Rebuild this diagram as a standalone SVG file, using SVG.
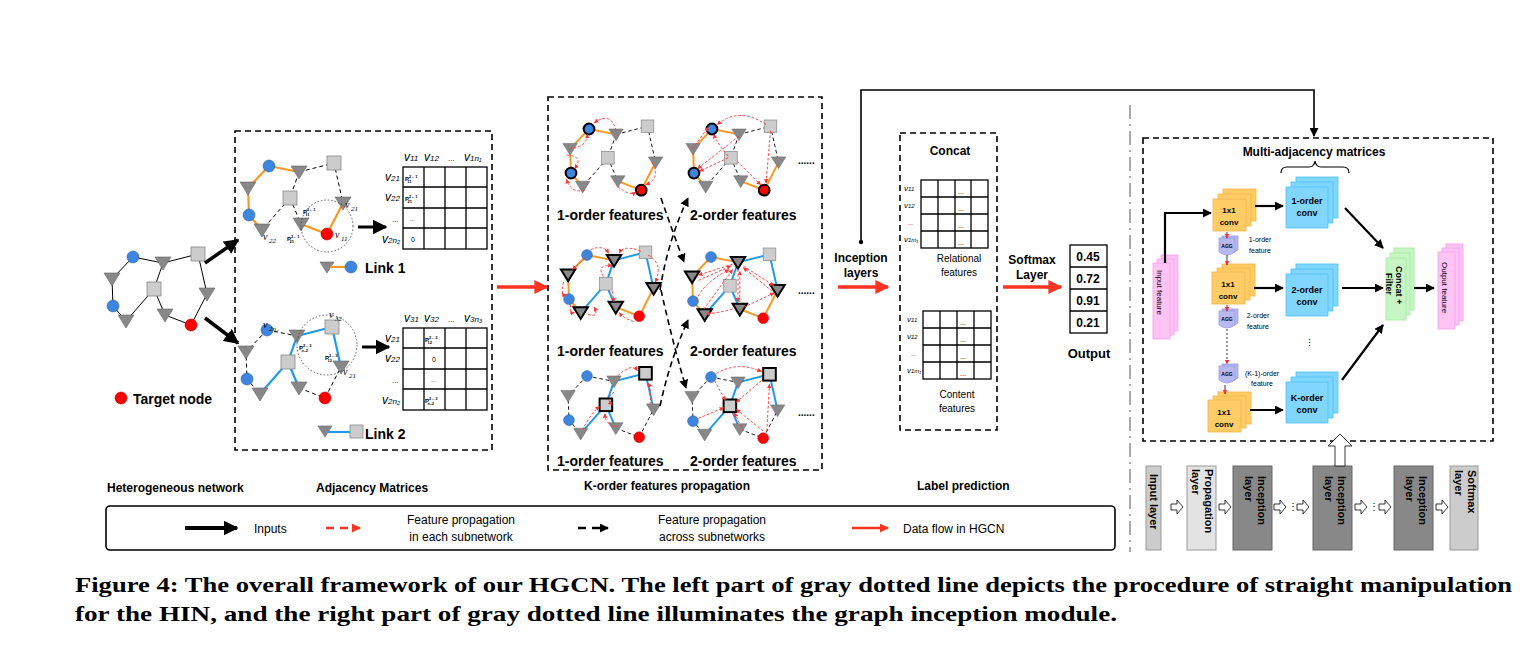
<svg xmlns="http://www.w3.org/2000/svg" xmlns:xlink="http://www.w3.org/1999/xlink" width="1525" height="658" viewBox="0 0 1525 658">
<style>
text{font-family:"Liberation Sans",Arial,sans-serif;fill:#000}
.b{font-weight:bold}
.m{font-family:"Liberation Serif","Times New Roman",serif;font-style:italic}
.dash{fill:none;stroke:#000;stroke-width:1.6;stroke-dasharray:6,4}
.e{stroke:#000;stroke-width:1;fill:none}
.ed{stroke:#000;stroke-width:1;stroke-dasharray:4,3;fill:none}
.eo{stroke:#f59b23;stroke-width:2.2;fill:none}
.eb{stroke:#1f9ae8;stroke-width:2.2;fill:none}
.ci{fill:#3d85de;stroke:#2a63a8;stroke-width:.6}
.rd{fill:#f00;stroke:#a00;stroke-width:.6}
.sq{fill:#ccc;stroke:#888;stroke-width:.8}
.tr{fill:#888;stroke:#666;stroke-width:.6}
.hl{stroke:#000;stroke-width:2.2}
.rr{fill:none;stroke:#f33;stroke-width:1;stroke-dasharray:3,2}
.cell{fill:#fff;stroke:#000;stroke-width:1.3}
.pk{fill:#ffc4f4;stroke:#f0a0e8;stroke-width:.8}
.or{fill:#ffcc66;stroke:#f2b44a;stroke-width:.8}
.bl{fill:#80d6ff;stroke:#4ec0f5;stroke-width:.8}
.gr{fill:#c8f5c4;stroke:#a4e8a0;stroke-width:.8}
.pu{fill:#b7b8f0;stroke:#9a9be0;stroke-width:.8}
</style>
<defs>
<marker id="ab" viewBox="0 0 10 10" refX="9" refY="5" markerUnits="userSpaceOnUse" markerWidth="9" markerHeight="9" orient="auto"><path d="M0,0L10,5L0,10z" fill="#000"/></marker>
<marker id="ar" viewBox="0 0 10 10" refX="9" refY="5" markerUnits="userSpaceOnUse" markerWidth="5" markerHeight="5" orient="auto"><path d="M0,0L10,5L0,10z" fill="#f33"/></marker>
<marker id="arr" viewBox="0 0 10 10" refX="9" refY="5" markerUnits="userSpaceOnUse" markerWidth="14" markerHeight="14" orient="auto"><path d="M0,0L10,5L0,10z" fill="#f32"/></marker>
<marker id="arrs" viewBox="0 0 10 10" refX="9" refY="5" markerUnits="userSpaceOnUse" markerWidth="9" markerHeight="9" orient="auto"><path d="M0,0L10,5L0,10z" fill="#f32"/></marker>
<marker id="ak" viewBox="0 0 10 10" refX="9" refY="5" markerUnits="userSpaceOnUse" markerWidth="15" markerHeight="15" orient="auto"><path d="M0,0L10,5L0,10z" fill="#000"/></marker>
<g id="nodes">
<circle class="ci" cx="0" cy="0" r="6"/>
<path class="tr" d="M22,0h16l-8,13z"/>
<rect class="sq" x="58" y="-10" width="14" height="14"/>
<path class="tr" d="M-29,16h16l-8,13z"/>
<rect class="sq" x="14" y="25" width="14" height="14"/>
<path class="tr" d="M66,31h16l-8,13z"/>
<circle class="ci" cx="-20" cy="49" r="6"/>
<path class="tr" d="M-15,58h16l-8,13z"/>
<path class="tr" d="M24,52h16l-8,13z"/>
<circle class="rd" cx="58" cy="68" r="6"/>
</g>
</defs>

<!-- HIN -->
<g id="hin" transform="translate(133,257)">
<path class="e" d="M0,0L30,6L65,-3M0,0L-21,22L-20,49L-7,64L21,32L30,6M21,32L32,58L58,68L74,37L65,-3"/>
<use xlink:href="#nodes"/>
</g>
<g id="target"><circle class="rd" cx="121" cy="398" r="6"/><text class="b" x="133" y="404" font-size="14">Target node</text></g>

<!-- Link1 graph -->
<g id="link1" transform="translate(269,166)">
<path class="ed" d="M30,6L65,-3L74,37M30,6L21,32L-7,64M21,32L32,58"/>
<path class="eo" d="M0,0L30,6M0,0L-21,22L-20,49L-7,64M32,58L58,68L74,37"/>
<use xlink:href="#nodes"/>
<circle cx="58" cy="60" r="26" fill="none" stroke="#333" stroke-width=".8" stroke-dasharray="1.5,2"/>
<text class="m" x="76" y="42" font-size="10">v</text><text class="m" x="82" y="45" font-size="7">21</text>
<text class="m" x="-6" y="74" font-size="10">v</text><text class="m" x="0" y="77" font-size="7">22</text>
<text class="m" x="66" y="72" font-size="10">v</text><text class="m" x="72" y="75" font-size="7">11</text>
<text x="34" y="48" font-size="6" font-weight="bold">P<tspan font-size="4" dy="-3">2←1</tspan><tspan font-size="4" dx="-10" dy="5">11</tspan></text>
<text x="18" y="75" font-size="6" font-weight="bold">P<tspan font-size="4" dy="-3">2←1</tspan><tspan font-size="4" dx="-10" dy="5">21</tspan></text>
</g>
<g id="link1leg"><path class="tr" d="M320,262h14l-7,11z"/><line class="eo" x1="330" y1="267" x2="350" y2="267"/><circle class="ci" cx="351" cy="267" r="6"/><text class="b" x="365" y="273" font-size="14">Link 1</text></g>

<!-- Link2 graph -->
<g id="link2" transform="translate(267,330)">
<path class="ed" d="M0,0L30,6M0,0L-21,22L-20,49L-7,64M32,58L58,68L74,37"/>
<path class="eb" d="M30,6L65,-3L74,37M30,6L21,32L-7,64M21,32L32,58"/>
<use xlink:href="#nodes"/>
<circle cx="60" cy="15" r="30" fill="none" stroke="#333" stroke-width=".8" stroke-dasharray="1.5,2"/>
<text class="m" x="-4" y="-2" font-size="10">v</text><text class="m" x="2" y="1" font-size="7">2n₂</text>
<text class="m" x="62" y="-12" font-size="10">v</text><text class="m" x="68" y="-9" font-size="7">32</text>
<text class="m" x="76" y="45" font-size="10">v</text><text class="m" x="82" y="48" font-size="7">21</text>
<text x="32" y="20" font-size="6" font-weight="bold">P<tspan font-size="4" dy="-3">2←3</tspan><tspan font-size="4" dx="-10" dy="5">n₂2</tspan></text>
<text x="58" y="30" font-size="6" font-weight="bold">P<tspan font-size="4" dy="-3">2←3</tspan><tspan font-size="4" dx="-10" dy="5">12</tspan></text>
</g>
<g id="link2leg"><path class="tr" d="M318,426h14l-7,11z"/><line class="eb" x1="328" y1="432" x2="350" y2="432"/><rect class="sq" x="350" y="425" width="13" height="13"/><text class="b" x="365" y="439" font-size="14">Link 2</text></g>

<!-- Adjacency box -->
<g id="adjbox"><rect class="dash" x="235" y="131" width="257" height="319"/></g>
<g id="mat1">
<rect class="cell" x="403" y="167" width="84" height="82"/>
<path class="cell" d="M424,167v82M445,167v82M466,167v82M403,187h84M403,208h84M403,228h84"/>
<g class="m" font-size="12"><text x="404" y="161">v<tspan font-size="8">11</tspan></text><text x="424" y="161">v<tspan font-size="8">12</tspan></text><text x="448" y="161" font-style="normal" font-size="8">...</text><text x="464" y="161">v<tspan font-size="8">1n₁</tspan></text>
<text x="385" y="181">v<tspan font-size="8">21</tspan></text><text x="385" y="201">v<tspan font-size="8">22</tspan></text><text x="392" y="222" font-style="normal" font-size="8">...</text><text x="382" y="243">v<tspan font-size="8">2n₂</tspan></text></g>
<text x="405" y="181" font-size="6" font-weight="bold">P<tspan font-size="4" dy="-3">2←1</tspan><tspan font-size="4" dx="-10" dy="5">11</tspan></text>
<text x="405" y="201" font-size="6" font-weight="bold">P<tspan font-size="4" dy="-3">2←1</tspan><tspan font-size="4" dx="-10" dy="5">21</tspan></text>
<text x="410" y="221" font-size="6">...</text><text x="411" y="242" font-size="7">0</text>
</g>
<g id="mat2">
<rect class="cell" x="403" y="328" width="84" height="82"/>
<path class="cell" d="M424,328v82M445,328v82M466,328v82M403,348h84M403,369h84M403,389h84"/>
<g class="m" font-size="12"><text x="404" y="322">v<tspan font-size="8">31</tspan></text><text x="424" y="322">v<tspan font-size="8">32</tspan></text><text x="448" y="322" font-style="normal" font-size="8">...</text><text x="464" y="322">v<tspan font-size="8">3n₃</tspan></text>
<text x="385" y="342">v<tspan font-size="8">21</tspan></text><text x="385" y="362">v<tspan font-size="8">22</tspan></text><text x="392" y="383" font-style="normal" font-size="8">...</text><text x="382" y="404">v<tspan font-size="8">2n₂</tspan></text></g>
<text x="425" y="342" font-size="6" font-weight="bold">P<tspan font-size="4" dy="-3">2←3</tspan><tspan font-size="4" dx="-10" dy="5">12</tspan></text>
<text x="432" y="362" font-size="7">0</text><text x="431" y="382" font-size="6">...</text>
<text x="425" y="403" font-size="6" font-weight="bold">P<tspan font-size="4" dy="-3">2←3</tspan><tspan font-size="4" dx="-10" dy="5">n₂2</tspan></text>
</g>

<!-- K-order panel -->
<g id="kbox"><rect class="dash" x="548" y="97" width="274" height="373"/></g>
<g id="k11" transform="translate(589,129) scale(.9)">
<path class="ed" d="M30,6L65,-3L74,37M30,6L21,32L-7,64M21,32L32,58"/>
<path class="eo" d="M0,0L30,6M0,0L-21,22L-20,49L-7,64M32,58L58,68L74,37"/>
<use xlink:href="#nodes"/>
<circle cx="0" cy="0" r="6" class="hl" fill="none"/><circle cx="-20" cy="49" r="6" class="hl" fill="none"/><circle cx="58" cy="68" r="6" class="hl" fill="none"/>
<g class="rr" marker-end="url(#ar)"><path d="M30,2Q25,-20 6,-7"/><path d="M-22,22Q-2,20 -2,6"/><path d="M-25,29Q-5,30 -16,44"/><path d="M-5,68Q-20,72 -25,56"/><path d="M32,64Q45,75 52,70"/><path d="M70,37Q80,55 63,62"/></g>
</g>
<g id="k12" transform="translate(712,129) scale(.9)">
<path class="ed" d="M30,6L65,-3L74,37M30,6L21,32L-7,64M21,32L32,58"/>
<path class="eo" d="M0,0L30,6M0,0L-21,22L-20,49L-7,64M32,58L58,68L74,37"/>
<use xlink:href="#nodes"/>
<circle cx="0" cy="0" r="6" class="hl" fill="none"/><circle cx="-20" cy="49" r="6" class="hl" fill="none"/><circle cx="58" cy="68" r="6" class="hl" fill="none"/>
<g class="rr" marker-end="url(#ar)"><path d="M60,-5Q30,-25 6,-5"/><path d="M18,30Q5,15 2,6"/><path d="M18,32L-14,47"/><path d="M65,2L60,60"/><path d="M28,36L54,62"/><path d="M30,8L-16,44"/><path d="M-22,22L-4,-2"/></g>
</g>
<g id="k21" transform="translate(587,255) scale(.9)">
<path class="eo" d="M0,0L30,6M0,0L-21,22L-20,49L-7,64M32,58L58,68L74,37"/>
<path class="eb" d="M30,6L65,-3L74,37M30,6L21,32L-7,64M21,32L32,58"/>
<use xlink:href="#nodes"/>
<path class="hl" fill="none" d="M22,0h16l-8,13zM-29,16h16l-8,13zM66,31h16l-8,13zM-15,58h16l-8,13zM24,52h16l-8,13z"/>
<g class="rr" marker-end="url(#ar)"><path d="M4,-6Q18,-12 24,-2"/><path d="M60,-4Q40,-12 36,-2"/><path d="M-2,4Q-10,10 -16,16"/><path d="M-26,30Q-30,45 -23,44"/><path d="M-18,55Q-20,65 -14,64"/><path d="M1,66Q14,70 8,58"/><path d="M18,24Q10,10 28,12"/><path d="M28,40L30,52"/><path d="M68,0Q85,10 76,30"/><path d="M52,74Q40,70 36,64"/></g>
</g>
<g id="k22" transform="translate(711,257) scale(.9)">
<path class="eo" d="M0,0L30,6M0,0L-21,22L-20,49L-7,64M32,58L58,68L74,37"/>
<path class="eb" d="M30,6L65,-3L74,37M30,6L21,32L-7,64M21,32L32,58"/>
<use xlink:href="#nodes"/>
<path class="hl" fill="none" d="M22,0h16l-8,13zM-29,16h16l-8,13zM66,31h16l-8,13zM-15,58h16l-8,13zM24,52h16l-8,13z"/>
<g class="rr" marker-end="url(#ar)"><path d="M24,8L-14,20"/><path d="M-14,26L22,10"/><path d="M30,14L30,50"/><path d="M32,50L32,16"/><path d="M36,10L70,32"/><path d="M68,38L36,12"/><path d="M-8,58L24,14"/><path d="M-16,48Q-10,30 20,14"/><path d="M36,56L70,40"/><path d="M24,58Q0,64 -5,62"/></g>
</g>
<g id="k31" transform="translate(587,376) scale(.9)">
<path class="ed" d="M0,0L30,6M0,0L-21,22L-20,49L-7,64M32,58L58,68L74,37"/>
<path class="eb" d="M30,6L65,-3L74,37M30,6L21,32L-7,64M21,32L32,58"/>
<use xlink:href="#nodes"/>
<rect x="58" y="-10" width="14" height="14" class="hl" fill="none"/><rect x="14" y="25" width="14" height="14" class="hl" fill="none"/>
<g class="rr" marker-end="url(#ar)"><path d="M30,18Q20,25 28,32"/><path d="M34,0Q50,-15 56,-6"/><path d="M70,32Q72,15 68,8"/><path d="M-5,60Q5,40 14,34"/><path d="M34,56Q20,55 20,42"/></g>
</g>
<g id="k32" transform="translate(711,377) scale(.9)">
<path class="ed" d="M0,0L30,6M0,0L-21,22L-20,49L-7,64M32,58L58,68L74,37"/>
<path class="eb" d="M30,6L65,-3L74,37M30,6L21,32L-7,64M21,32L32,58"/>
<use xlink:href="#nodes"/>
<rect x="58" y="-10" width="14" height="14" class="hl" fill="none"/><rect x="14" y="25" width="14" height="14" class="hl" fill="none"/>
<g class="rr" marker-end="url(#ar)"><path d="M6,-4Q30,-18 56,-6"/><path d="M4,4L16,26"/><path d="M-14,46L14,34"/><path d="M58,60L28,36"/><path d="M62,60L65,8"/><path d="M56,4L28,28"/><path d="M36,60L26,40"/></g>
</g>
<g id="klabels" class="b" font-size="14">
<text x="557" y="220">1-order features</text><text x="690" y="220">2-order features</text>
<text x="557" y="356">1-order features</text><text x="690" y="356">2-order features</text>
<text x="557" y="466">1-order features</text><text x="690" y="466">2-order features</text>
<text x="798" y="164" font-size="10">......</text><text x="798" y="294" font-size="10">......</text><text x="798" y="416" font-size="10">......</text>
</g>

<!-- Label prediction -->
<g id="concat"><rect class="dash" x="900" y="133" width="97" height="297"/>
<text class="b" x="950" y="155" font-size="12" text-anchor="middle">Concat</text>
<rect class="cell" x="921" y="180" width="67" height="68"/>
<path class="cell" d="M938,180v68M955,180v68M971,180v68M921,197h67M921,214h67M921,231h67"/>
<g font-size="7"><text x="958" y="194">...</text><text x="958" y="211">...</text><text x="958" y="228">...</text><text x="958" y="245">...</text></g>
<g class="m" font-size="8"><text x="904" y="191">v<tspan font-size="6">11</tspan></text><text x="904" y="208">v<tspan font-size="6">12</tspan></text><text x="908" y="225" font-style="normal" font-size="6">...</text><text x="904" y="242">v<tspan font-size="6">1m₁</tspan></text></g>
<text x="959" y="262" font-size="10" text-anchor="middle">Relational</text><text x="959" y="276" font-size="10" text-anchor="middle">features</text>
<rect class="cell" x="923" y="311" width="68" height="68"/>
<path class="cell" d="M940,311v68M957,311v68M974,311v68M923,328h68M923,345h68M923,362h68"/>
<g font-size="7"><text x="960" y="325">...</text><text x="960" y="342">...</text><text x="960" y="359">...</text><text x="960" y="376">...</text></g>
<g class="m" font-size="8"><text x="907" y="322">v<tspan font-size="6">11</tspan></text><text x="907" y="339">v<tspan font-size="6">12</tspan></text><text x="911" y="356" font-style="normal" font-size="6">...</text><text x="907" y="373">v<tspan font-size="6">1m₁</tspan></text></g>
<text x="957" y="398" font-size="10" text-anchor="middle">Content</text><text x="957" y="412" font-size="10" text-anchor="middle">features</text>
</g>
<g id="output">
<rect class="cell" x="1070" y="245" width="37" height="88"/>
<path class="cell" d="M1070,267h37M1070,289h37M1070,311h37"/>
<g class="b" font-size="12" text-anchor="middle"><text x="1088" y="261">0.45</text><text x="1088" y="283">0.72</text><text x="1088" y="305">0.91</text><text x="1088" y="327">0.21</text></g>
<text class="b" x="1089" y="358" font-size="13" text-anchor="middle">Output</text>
</g>
<text class="b" x="861" y="262" font-size="12" text-anchor="middle">Inception</text>
<text class="b" x="861" y="277" font-size="12" text-anchor="middle">layers</text>
<text class="b" x="1032" y="264" font-size="12" text-anchor="middle">Softmax</text>
<text class="b" x="1032" y="279" font-size="12" text-anchor="middle">Layer</text>

<!-- Gray divider -->
<line x1="1130" y1="105" x2="1130" y2="552" stroke="#aaa" stroke-width="2" stroke-dasharray="14,5,2,5"/>

<!-- Inception module -->
<g id="incbox"><rect class="dash" x="1143" y="138" width="350" height="303"/>
<text class="b" x="1314" y="156" font-size="12" text-anchor="middle">Multi-adjacency matrices</text>
<path d="M1281,173q0,-6 6,-6h22q5,0 6,-6q1,6 6,6h22q6,0 6,6" fill="none" stroke="#000" stroke-width="1.2"/>
</g>
<g id="infeat"><rect class="pk" x="1161" y="255" width="17" height="76"/><rect class="pk" x="1157" y="259" width="17" height="76"/><rect class="pk" x="1153" y="263" width="17" height="76"/>
<text x="1157" y="270" font-size="8" transform="rotate(90 1157 270)">Input feature</text></g>
<g id="conv1"><rect class="or" x="1223" y="189" width="33" height="32"/><rect class="or" x="1218" y="194" width="33" height="32"/><rect class="or" x="1213" y="199" width="33" height="32"/><text class="b" x="1229" y="213" font-size="8" text-anchor="middle">1x1</text><text class="b" x="1229" y="225" font-size="8" text-anchor="middle">conv</text></g>
<g id="conv2"><rect class="or" x="1222" y="264" width="33" height="32"/><rect class="or" x="1217" y="268" width="33" height="32"/><rect class="or" x="1212" y="272" width="33" height="32"/><text class="b" x="1228" y="287" font-size="8" text-anchor="middle">1x1</text><text class="b" x="1228" y="299" font-size="8" text-anchor="middle">conv</text></g>
<g id="convk"><rect class="or" x="1218" y="392" width="33" height="32"/><rect class="or" x="1213" y="396" width="33" height="32"/><rect class="or" x="1208" y="400" width="33" height="32"/><text class="b" x="1224" y="415" font-size="8" text-anchor="middle">1x1</text><text class="b" x="1224" y="427" font-size="8" text-anchor="middle">conv</text></g>
<g id="aggs" font-size="5" class="b">
<path class="pu" d="M1222,236h16v14q-8,6 -16,0z"/><path class="pu" d="M1219,238h16v14q-8,6 -16,0z"/><text x="1227" y="248" text-anchor="middle">AGG</text>
<path class="pu" d="M1222,309h16v14q-8,6 -16,0z"/><path class="pu" d="M1219,311h16v14q-8,6 -16,0z"/><text x="1227" y="321" text-anchor="middle">AGG</text>
<path class="pu" d="M1222,364h16v14q-8,6 -16,0z"/><path class="pu" d="M1219,366h16v14q-8,6 -16,0z"/><text x="1227" y="376" text-anchor="middle">AGG</text>
</g>
<g font-size="7" text-anchor="middle"><text x="1260" y="242">1-order</text><text x="1260" y="253">feature</text><text x="1258" y="318">2-order</text><text x="1258" y="329">feature</text><text x="1262" y="376">(K-1)-order</text><text x="1262" y="386">feature</text></g>
<g id="bconv" class="b" font-size="9" text-anchor="middle">
<rect class="bl" x="1296" y="177" width="42" height="41"/><rect class="bl" x="1291" y="182" width="42" height="41"/><rect class="bl" x="1286" y="187" width="42" height="41"/><text x="1307" y="204">1-order</text><text x="1307" y="216">conv</text>
<rect class="bl" x="1296" y="264" width="42" height="42"/><rect class="bl" x="1291" y="269" width="42" height="42"/><rect class="bl" x="1286" y="274" width="42" height="42"/><text x="1307" y="293">2-order</text><text x="1307" y="305">conv</text>
<rect class="bl" x="1296" y="372" width="42" height="41"/><rect class="bl" x="1291" y="377" width="42" height="41"/><rect class="bl" x="1286" y="382" width="42" height="41"/><text x="1307" y="401">K-order</text><text x="1307" y="413">conv</text>
</g>
<text x="1309" y="346" font-size="9" text-anchor="middle">⋮</text>
<g id="concatf"><rect class="gr" x="1394" y="248" width="20" height="62"/><rect class="gr" x="1390" y="253" width="20" height="62"/><rect class="gr" x="1386" y="258" width="20" height="62"/>
<text class="b" x="1396" y="266" font-size="9" transform="rotate(90 1396 266)">Concat +</text><text class="b" x="1386" y="273" font-size="9" transform="rotate(90 1386 273)">Filter</text></g>
<g id="outfeat"><rect class="pk" x="1446" y="244" width="17" height="77"/><rect class="pk" x="1442" y="248" width="17" height="77"/><rect class="pk" x="1438" y="252" width="17" height="77"/>
<text x="1442" y="262" font-size="8" transform="rotate(90 1442 262)">Output feature</text></g>

<!-- Bottom layers -->
<g id="layers" class="b" font-size="11">
<rect x="1146" y="466" width="15" height="84" fill="#ccc" stroke="#999"/><text x="1150" y="474" transform="rotate(90 1150 474)">Input layer</text>
<rect x="1187" y="466" width="29" height="84" fill="#e3e3e3" stroke="#999"/><text x="1205" y="469" transform="rotate(90 1205 469)">Propagation</text><text x="1192" y="469" transform="rotate(90 1192 469)">layer</text>
<rect x="1233" y="466" width="39" height="84" fill="#888" stroke="#666"/><text x="1258" y="476" transform="rotate(90 1258 476)">Inception</text><text x="1245" y="476" transform="rotate(90 1245 476)">layer</text>
<rect x="1313" y="466" width="39" height="84" fill="#888" stroke="#666"/><text x="1338" y="476" transform="rotate(90 1338 476)">Inception</text><text x="1325" y="476" transform="rotate(90 1325 476)">layer</text>
<rect x="1394" y="466" width="39" height="84" fill="#888" stroke="#666"/><text x="1419" y="476" transform="rotate(90 1419 476)">Inception</text><text x="1406" y="476" transform="rotate(90 1406 476)">layer</text>
<rect x="1450" y="466" width="28" height="84" fill="#ccc" stroke="#999"/><text x="1468" y="470" transform="rotate(90 1468 470)">Softmax</text><text x="1455" y="470" transform="rotate(90 1455 470)">layer</text>
</g>
<g id="hollow" fill="#fff" stroke="#000" stroke-width=".8">
<path d="M1171,504h6v-4l6,7l-6,7v-4h-6z"/><path d="M1219,504h6v-4l6,7l-6,7v-4h-6z"/><path d="M1274,504h6v-4l6,7l-6,7v-4h-6z"/><path d="M1297,504h6v-4l6,7l-6,7v-4h-6z"/><path d="M1355,504h6v-4l6,7l-6,7v-4h-6z"/><path d="M1379,504h6v-4l6,7l-6,7v-4h-6z"/><path d="M1436,504h6v-4l6,7l-6,7v-4h-6z"/>
<path d="M1335,466v-20h-7l12,-12l12,12h-7v20z"/>
</g>
<g font-size="10"><text x="1288" y="510">⋮</text><text x="1369" y="510">⋮</text></g>

<!-- Connectors -->
<g id="connectors">
<g stroke="#000" stroke-width="3.5" marker-end="url(#ak)" fill="none"><path d="M205,263L238,240"/><path d="M205,318L238,343"/></g>
<g stroke="#000" stroke-width="3" marker-end="url(#ak)" fill="none"><path d="M358,227h28"/><path d="M362,347h27"/></g>
<g stroke="#f32" stroke-width="3.5" marker-end="url(#arr)" fill="none"><path d="M497,287h50"/><path d="M838,287h50"/><path d="M1003,287h58"/></g>
<g class="dash" stroke-width="1.6" marker-end="url(#ab)"><path d="M661,198Q672,230 684,262"/><path d="M660,290Q668,240 688,198"/><path d="M661,290Q672,340 686,388"/><path d="M660,406Q670,360 688,320"/></g>
<path d="M861,242V90H1314V136" fill="none" stroke="#000" stroke-width="1.6" marker-end="url(#ab)"/>
<circle cx="861" cy="242" r="2.2"/>
<g stroke="#000" stroke-width="2.2" fill="none" marker-end="url(#ab)">
<path d="M1165,263V213H1211"/><path d="M1255,206H1283"/><path d="M1254,288H1283"/><path d="M1250,410H1283"/>
<path d="M1345,208L1383,248"/><path d="M1342,288H1383"/><path d="M1342,380L1383,325"/><path d="M1414,288H1434"/>
</g>
<g stroke="#000" stroke-width=".8" fill="none" marker-end="url(#ar)"><path d="M1227,232V238"/><path d="M1227,255V265"/><path d="M1227,305V311"/><path d="M1227,329V364" stroke-dasharray="2,2"/><path d="M1225,385V394"/></g>
</g>

<!-- Section labels -->
<g class="b" font-size="12">
<text x="107" y="492">Heterogeneous network</text><text x="316" y="492">Adjacency Matrices</text><text x="584" y="490">K-order features propagation</text><text x="917" y="490">Label prediction</text>
</g>

<!-- Legend -->
<g id="legend"><rect x="106" y="506" width="1009" height="44" rx="4" fill="#fff" stroke="#000" stroke-width="1.6"/>
<path d="M185,528h52" stroke="#000" stroke-width="4" marker-end="url(#ak)"/>
<path d="M326,528h34" stroke="#f32" stroke-width="2.5" stroke-dasharray="8,6" marker-end="url(#arrs)"/>
<path d="M578,528h30" stroke="#000" stroke-width="2.5" stroke-dasharray="8,6" marker-end="url(#ab)"/>
<path d="M852,528h36" stroke="#f32" stroke-width="2.5" marker-end="url(#arrs)"/>
<g font-size="12"><text x="254" y="533">Inputs</text><text x="461" y="524" text-anchor="middle">Feature propagation</text><text x="461" y="541" text-anchor="middle">in each subnetwork</text><text x="712" y="524" text-anchor="middle">Feature propagation</text><text x="712" y="541" text-anchor="middle">across subnetworks</text><text x="903" y="533">Data flow in HGCN</text></g>
</g>
<g font-weight="bold" font-size="21">
<text x="75" y="592" style="font-family:'Liberation Serif',serif" textLength="1437" lengthAdjust="spacingAndGlyphs">Figure 4: The overall framework of our HGCN. The left part of gray dotted line depicts the procedure of straight manipulation</text>
<text x="75" y="621" style="font-family:'Liberation Serif',serif" textLength="1042" lengthAdjust="spacingAndGlyphs">for the HIN, and the right part of gray dotted line illuminates the graph inception module.</text>
</g>
</svg>
